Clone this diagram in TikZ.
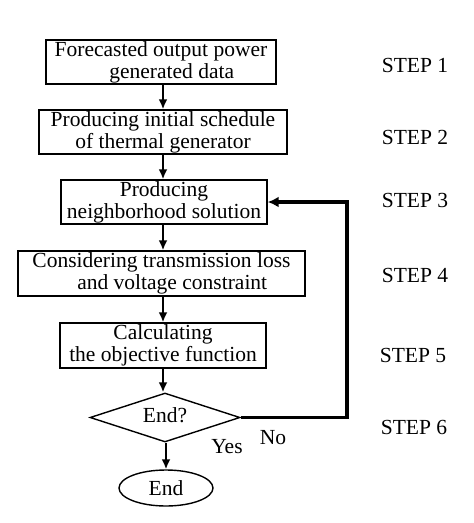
\documentclass[tikz,border=0pt]{standalone}
\usepackage{fontspec}
\setmainfont{Liberation Serif}
\usetikzlibrary{shapes.geometric,arrows.meta}
\begin{document}
\begin{tikzpicture}[x=1pt,y=-1pt,
  every node/.style={font=\fontsize{21.5}{22}\selectfont},
  box/.style={draw,line width=1.4pt,inner sep=0pt,align=center},
  arr/.style={line width=2.6pt,-{Latex[length=10pt,width=9pt]}},
  fb/.style={line width=3.3pt,-{Latex[length=11pt,width=11pt]}},
  steplbl/.style={anchor=center}]
\useasboundingbox (0,0) rectangle (474,523);
\node[box,minimum width=230,minimum height=44] (b1) at (161,62) {Forecasted output power\\ \quad generated data};
\node[box,minimum width=248,minimum height=44] (b2) at (163,132) {Producing initial schedule\\of thermal generator};
\node[box,minimum width=206,minimum height=44] (b3) at (164,202) {Producing\\neighborhood solution};
\node[box,minimum width=287,minimum height=45] (b4) at (161.5,273.5) {Considering transmission loss\\ \quad and voltage constraint};
\node[box,minimum width=206,minimum height=45] (b5) at (163,345.5) {Calculating\\the objective function};
\node[draw,diamond,line width=1.4pt,inner sep=0pt,minimum width=150,minimum height=49] (d) at (165,417.5) {};
\node (dt) at (165,415) {End?};
\node[draw,ellipse,line width=1.4pt,inner sep=0pt,minimum width=94,minimum height=36] (e) at (166,488) {End};
\coordinate (ax) at (163,0);
\coordinate (fx) at (347,0);
\draw[arr] (b1.south -| ax) -- (b2.north -| ax);
\draw[arr] (b2.south -| ax) -- (b3.north -| ax);
\draw[arr] (b3.south -| ax) -- (b4.north -| ax);
\draw[arr] (b4.south -| ax) -- (b5.north -| ax);
\draw[arr] (b5.south -| ax) -- (d.north -| ax);
\draw[arr] (d.south -| e.north) -- (e.north);
\draw[fb] (d.east) -- (fx |- d.east) |- (b3.east);
\node (yes) at (227,447) {Yes};
\node (no) at (273,438) {No};
\node[steplbl] (s1) at (415,65) {STEP 1};
\node[steplbl] (s2) at (415,137) {STEP 2};
\node[steplbl] (s3) at (415,200) {STEP 3};
\node[steplbl] (s4) at (415,275) {STEP 4};
\node[steplbl] (s5) at (413,355) {STEP 5};
\node[steplbl] (s6) at (414,427) {STEP 6};
\end{tikzpicture}
\end{document}
